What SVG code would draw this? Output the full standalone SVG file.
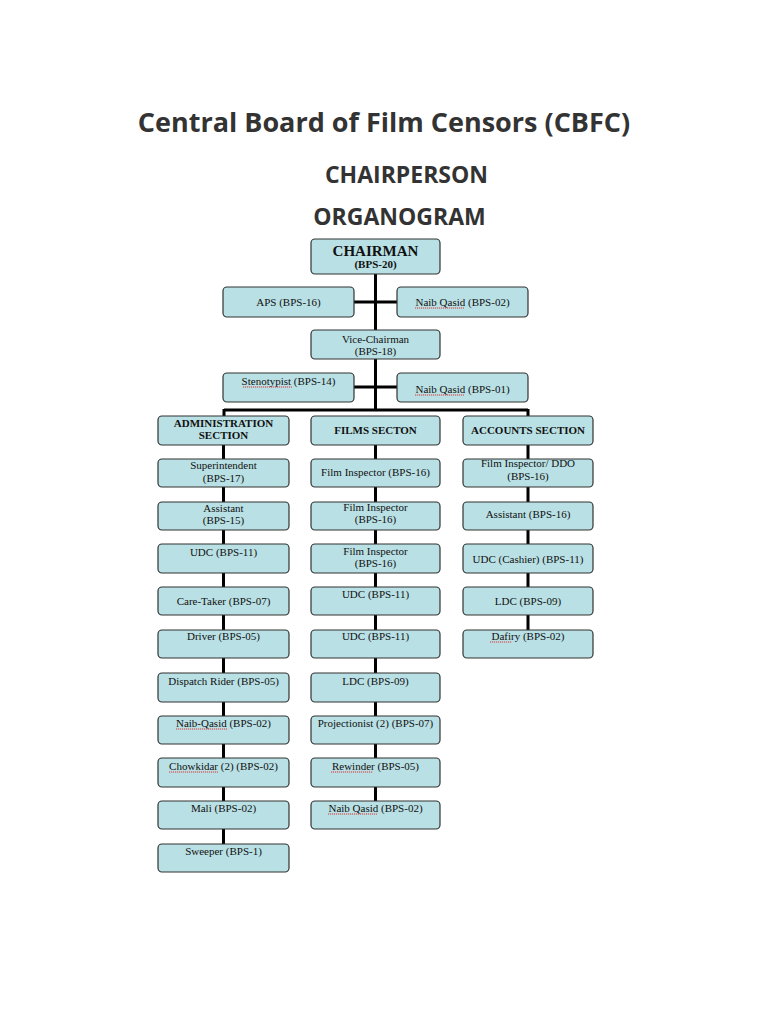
<svg xmlns="http://www.w3.org/2000/svg" width="768" height="1024" viewBox="0 0 768 1024">
<style>
.b{fill:#b9e0e4;stroke:#333;stroke-width:1.2}
.t{font-family:"Liberation Serif",serif;font-size:11px;fill:#111;text-anchor:middle}
.h{font-family:"Liberation Serif",serif;font-size:11px;font-weight:bold;fill:#111;text-anchor:middle}
.ti{font-family:"Open Sans",sans-serif;font-weight:bold;fill:#333;text-anchor:middle}
.c{stroke:#000;stroke-width:3;fill:none}
.sq{stroke:#d22;stroke-width:0.9;fill:none;stroke-dasharray:1.2 0.8}
</style>
<rect width="768" height="1024" fill="#fff"/>
<text class="ti" x="384" y="132" style="font-size:27px">Central Board of Film Censors (CBFC)</text>
<text class="ti" x="406.5" y="183" style="font-size:23px">CHAIRPERSON</text>
<text class="ti" x="399.5" y="225" style="font-size:23px">ORGANOGRAM</text>
<g id="connectors">
<path class="c" d="M375.5 274V410M354 302H397M354 387H397M224 410H528M224 409V416M528 409V416"/>
<path class="c" d="M223.5 445V459M223.5 487V502M223.5 530V544M223.5 573V587M223.5 615V630M223.5 658V673M223.5 702V716M223.5 744V758M223.5 787V801M223.5 829V844"/>
<path class="c" d="M375.5 445V459M375.5 487V502M375.5 530V544M375.5 573V587M375.5 615V630M375.5 658V673M375.5 702V716M375.5 744V758M375.5 782V801"/>
<path class="c" d="M528 445V459M528 487V502M528 530V544M528 573V587M528 615V630"/>
</g>
<g id="chairman"><rect class="b" x="311" y="239" width="129" height="35" rx="4"/><text class="h" x="375.5" y="256" style="font-size:15px">CHAIRMAN</text><text class="h" x="375.5" y="268">(BPS-20)</text></g>
<g id="aps"><rect class="b" x="223" y="287" width="131" height="30" rx="4"/><text class="t" x="288.5" y="306">APS (BPS-16)</text></g>
<g id="naib02"><rect class="b" x="397" y="287" width="131" height="30" rx="4"/><text class="t" x="462.5" y="306">Naib Qasid (BPS-02)</text><path class="sq" d="M415 308H464"/></g>
<g id="vice"><rect class="b" x="311" y="330" width="129" height="29" rx="4"/><text class="t" x="375.5" y="343">Vice-Chairman</text><text class="t" x="375.5" y="355">(BPS-18)</text></g>
<g id="steno"><rect class="b" x="223" y="373" width="131" height="29" rx="4"/><text class="t" x="288.5" y="385">Stenotypist (BPS-14)</text><path class="sq" d="M243 387H292"/></g>
<g id="naib01"><rect class="b" x="397" y="373" width="131" height="29" rx="4"/><text class="t" x="462.5" y="393">Naib Qasid (BPS-01)</text><path class="sq" d="M415 395H464"/></g>

<g id="admin"><rect class="b" x="158" y="416" width="131" height="29" rx="4"/><text class="h" x="223.5" y="427">ADMINISTRATION</text><text class="h" x="223.5" y="439">SECTION</text></g>
<g id="films"><rect class="b" x="311" y="416" width="129" height="29" rx="4"/><text class="h" x="375.5" y="434">FILMS SECTON</text></g>
<g id="accounts"><rect class="b" x="463" y="416" width="130" height="29" rx="4"/><text class="h" x="528" y="434">ACCOUNTS SECTION</text></g>

<g id="a1"><rect class="b" x="158" y="459" width="131" height="28" rx="4"/><text class="t" x="223.5" y="469">Superintendent</text><text class="t" x="223.5" y="482">(BPS-17)</text></g>
<g id="a2"><rect class="b" x="158" y="502" width="131" height="28" rx="4"/><text class="t" x="223.5" y="512">Assistant</text><text class="t" x="223.5" y="524">(BPS-15)</text></g>
<g id="a3"><rect class="b" x="158" y="544" width="131" height="29" rx="4"/><text class="t" x="223.5" y="556">UDC (BPS-11)</text></g>
<g id="a4"><rect class="b" x="158" y="587" width="131" height="28" rx="4"/><text class="t" x="223.5" y="605">Care-Taker  (BPS-07)</text></g>
<g id="a5"><rect class="b" x="158" y="630" width="131" height="28" rx="4"/><text class="t" x="223.5" y="640">Driver  (BPS-05)</text></g>
<g id="a6"><rect class="b" x="158" y="673" width="131" height="29" rx="4"/><text class="t" x="223.5" y="685">Dispatch Rider (BPS-05)</text></g>
<g id="a7"><rect class="b" x="158" y="716" width="131" height="28" rx="4"/><text class="t" x="223.5" y="727">Naib-Qasid (BPS-02)</text><path class="sq" d="M176 729H227"/></g>
<g id="a8"><rect class="b" x="158" y="758" width="131" height="29" rx="4"/><text class="t" x="223.5" y="770">Chowkidar (2) (BPS-02)</text><path class="sq" d="M169 772H218"/></g>
<g id="a9"><rect class="b" x="158" y="801" width="131" height="28" rx="4"/><text class="t" x="223.5" y="812">Mali (BPS-02)</text></g>
<g id="a10"><rect class="b" x="158" y="844" width="131" height="28" rx="4"/><text class="t" x="223.5" y="855">Sweeper (BPS-1)</text></g>

<g id="f1"><rect class="b" x="311" y="459" width="129" height="28" rx="4"/><text class="t" x="375.5" y="476">Film Inspector (BPS-16)</text></g>
<g id="f2"><rect class="b" x="311" y="502" width="129" height="28" rx="4"/><text class="t" x="375.5" y="511">Film Inspector</text><text class="t" x="375.5" y="523">(BPS-16)</text></g>
<g id="f3"><rect class="b" x="311" y="544" width="129" height="29" rx="4"/><text class="t" x="375.5" y="555">Film Inspector</text><text class="t" x="375.5" y="567">(BPS-16)</text></g>
<g id="f4"><rect class="b" x="311" y="587" width="129" height="28" rx="4"/><text class="t" x="375.5" y="598">UDC (BPS-11)</text></g>
<g id="f5"><rect class="b" x="311" y="630" width="129" height="28" rx="4"/><text class="t" x="375.5" y="640">UDC (BPS-11)</text></g>
<g id="f6"><rect class="b" x="311" y="673" width="129" height="29" rx="4"/><text class="t" x="375.5" y="685">LDC (BPS-09)</text></g>
<g id="f7"><rect class="b" x="311" y="716" width="129" height="28" rx="4"/><text class="t" x="375.5" y="727">Projectionist (2) (BPS-07)</text></g>
<g id="f8"><rect class="b" x="311" y="758" width="129" height="29" rx="4"/><text class="t" x="375.5" y="770">Rewinder (BPS-05)</text><path class="sq" d="M331 772H373"/></g>
<g id="f9"><rect class="b" x="311" y="801" width="129" height="28" rx="4"/><text class="t" x="375.5" y="812">Naib Qasid (BPS-02)</text><path class="sq" d="M328 814H377"/></g>

<g id="c1"><rect class="b" x="463" y="459" width="130" height="28" rx="4"/><text class="t" x="528" y="467">Film Inspector/ DDO</text><text class="t" x="528" y="480">(BPS-16)</text></g>
<g id="c2"><rect class="b" x="463" y="502" width="130" height="28" rx="4"/><text class="t" x="528" y="518">Assistant (BPS-16)</text></g>
<g id="c3"><rect class="b" x="463" y="544" width="130" height="29" rx="4"/><text class="t" x="528" y="563">UDC (Cashier) (BPS-11)</text></g>
<g id="c4"><rect class="b" x="463" y="587" width="130" height="28" rx="4"/><text class="t" x="528" y="605">LDC (BPS-09)</text></g>
<g id="c5"><rect class="b" x="463" y="630" width="130" height="28" rx="4"/><text class="t" x="528" y="640">Dafiry (BPS-02)</text><path class="sq" d="M490 642H512"/></g>
</svg>
